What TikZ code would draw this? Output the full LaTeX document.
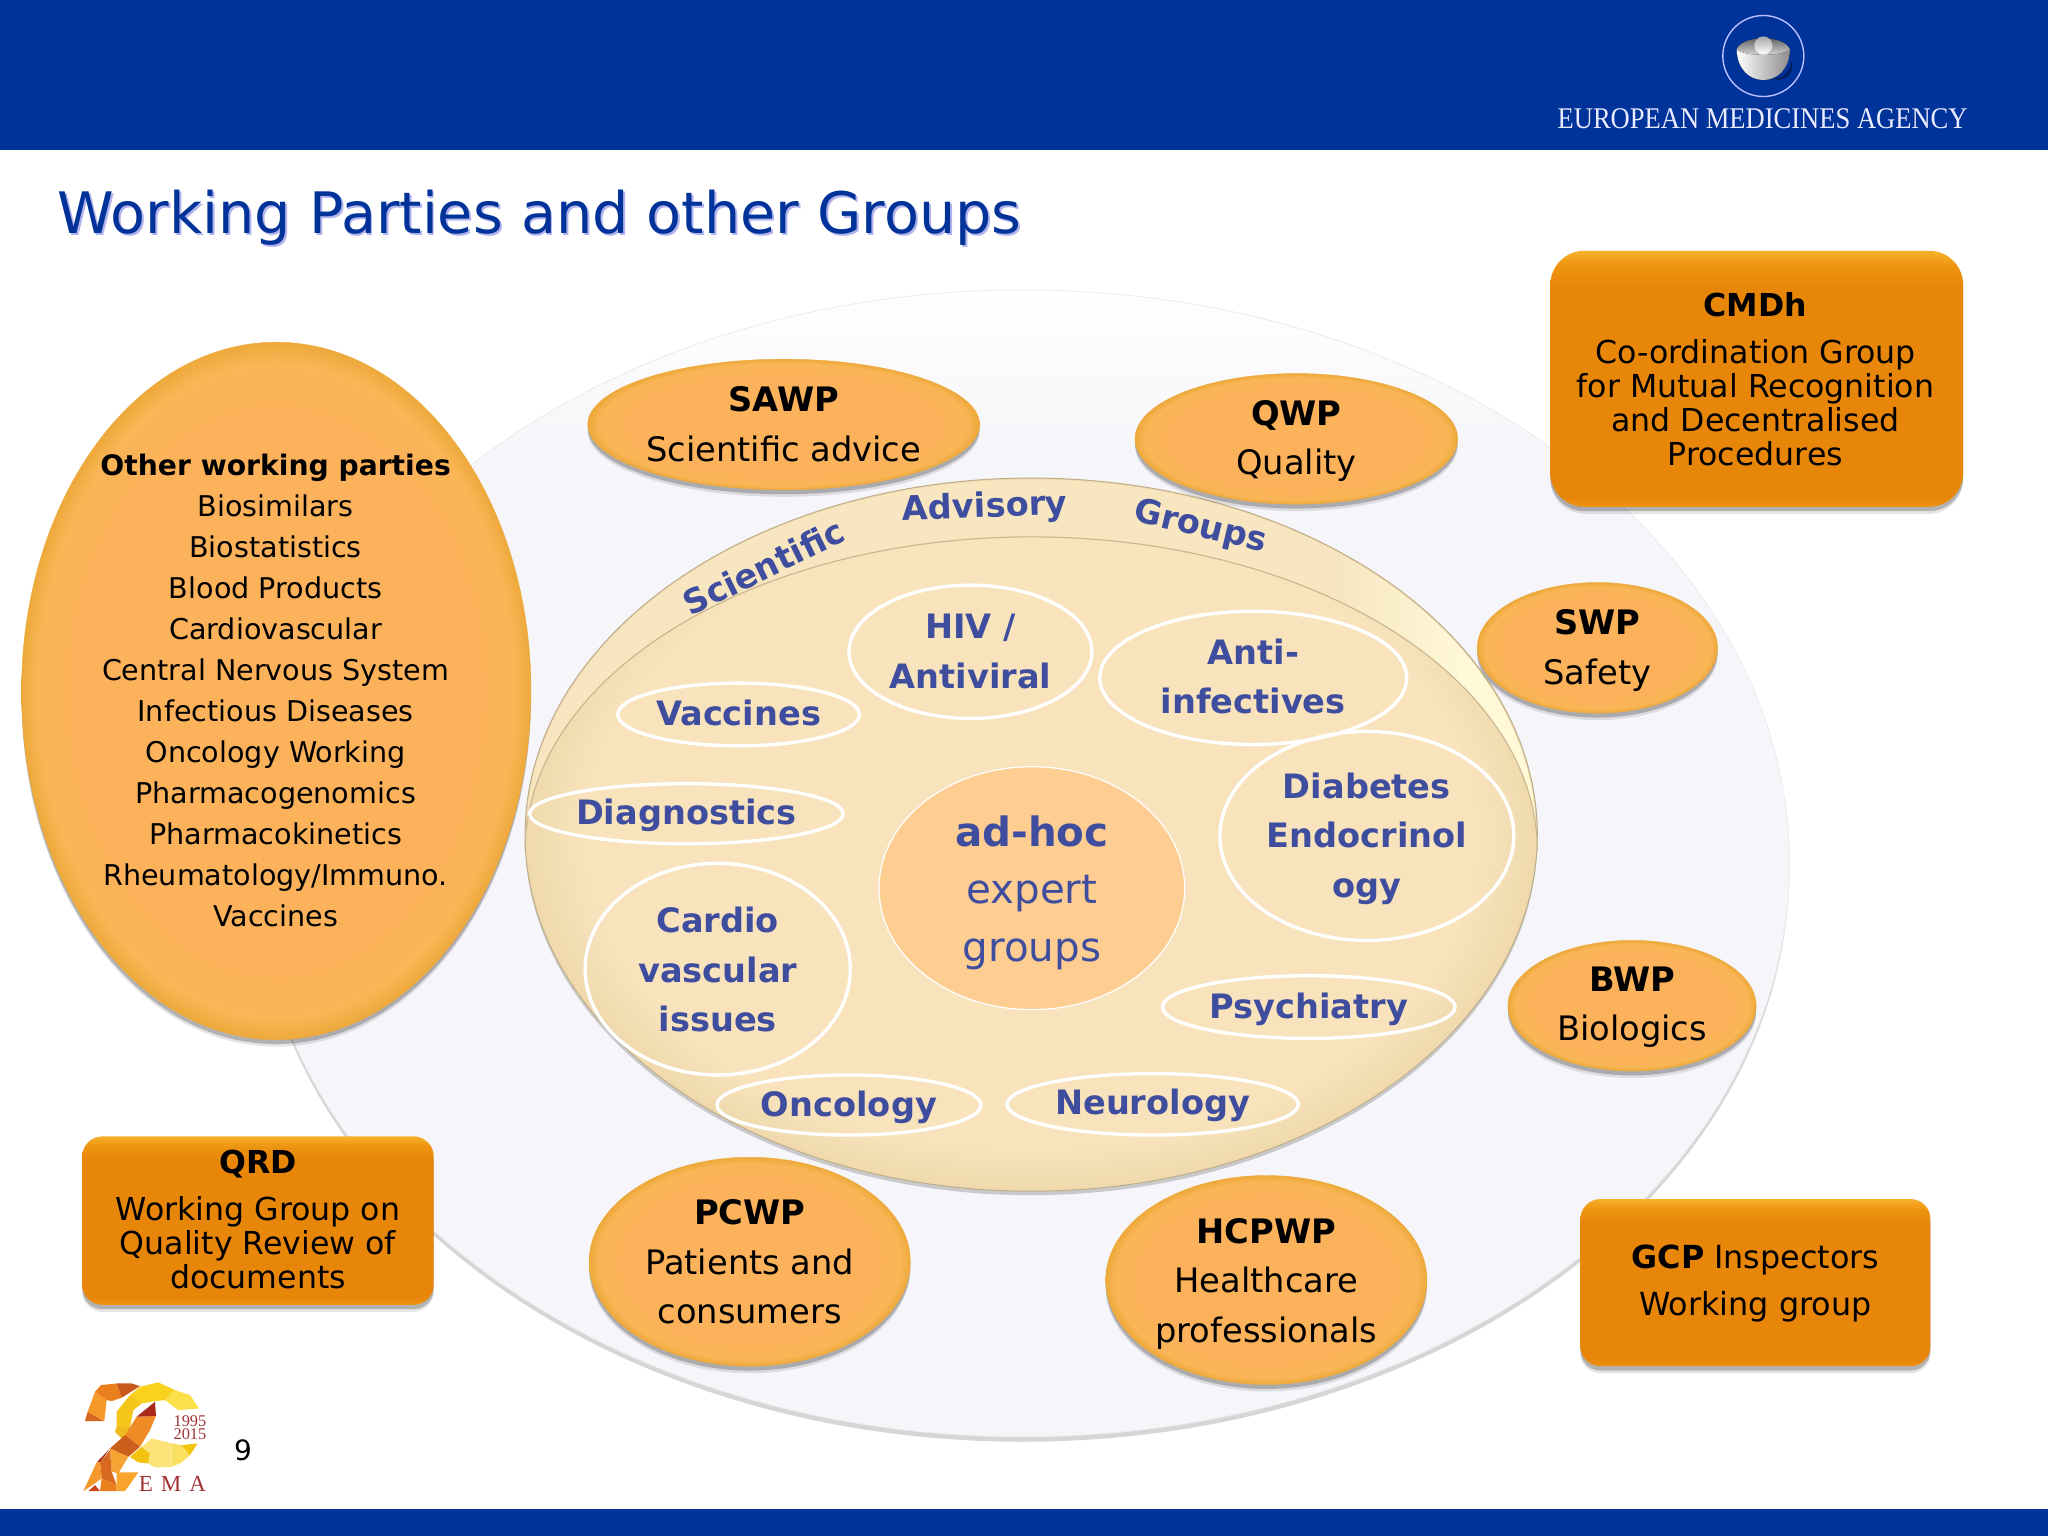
\documentclass[tikz,border=0pt]{standalone}
\usepackage{fontspec}
\setmainfont{DejaVu Sans}
\newfontfamily\emafont[FakeStretch=0.885]{Liberation Serif}
\newfontfamily\seriffont{Liberation Serif}
\usetikzlibrary{shapes.geometric,shadows}
\definecolor{emablue}{HTML}{003399}
\definecolor{adv}{HTML}{3F4D9F}
\definecolor{orbc}{HTML}{FBB25A}
\definecolor{orbm}{HTML}{F9B556}
\definecolor{orbe}{HTML}{EDA93A}
\definecolor{boxa}{HTML}{E8860A}
\definecolor{boxb}{HTML}{F6B02C}
\definecolor{boxc}{HTML}{EE9410}
\definecolor{bigc}{HTML}{F8E3BD}
\definecolor{bige}{HTML}{EFD9AC}
\definecolor{bandc}{HTML}{F7E6C0}
\definecolor{foldc}{HTML}{FFF9D8}
\definecolor{hocf}{HTML}{FDCD92}
\definecolor{pale}{HTML}{F6F6FA}
\definecolor{logored}{HTML}{A03434}
\pgfdeclareradialshading{orb}{\pgfpointorigin}{color(0bp)=(orbc);color(20bp)=(orbc);color(23.5bp)=(orbm);color(25bp)=(orbe);color(50bp)=(orbe)}
\pgfdeclareverticalshading{boxsh}{100bp}{color(0bp)=(boxa);color(25bp)=(boxc);color(27bp)=(boxa);color(68bp)=(boxa);color(72bp)=(boxc);color(75bp)=(boxb);color(100bp)=(boxb)}
\pgfdeclareradialshading{bigsh}{\pgfpointorigin}{color(0bp)=(bigc);color(22bp)=(bigc);color(25bp)=(bige);color(50bp)=(bige)}
\pgfdeclareverticalshading{palesh}{100bp}{color(0bp)=(pale);color(25bp)=(pale);color(50bp)=(pale);color(68bp)=(pale);color(75bp)=(white);color(100bp)=(white)}
\pgfdeclarehorizontalshading{foldsh}{100bp}{color(0bp)=(bandc);color(25bp)=(bandc);color(55bp)=(bandc);color(68bp)=(foldc);color(100bp)=(foldc)}
\tikzset{
  softsh/.style={drop shadow={shadow xshift=0pt,shadow yshift=-3.5pt,fill=black,opacity=.10},
                 drop shadow={shadow xshift=0pt,shadow yshift=-2.2pt,fill=black,opacity=.22}},
  ell/.style 2 args={ellipse,inner sep=0pt,outer sep=0pt,minimum width=#1*1.30612pt,minimum height=#2*1.30612pt},
  orbst/.style={shading=orb,draw=orbe,line width=.2pt,softsh},
  ringst/.style={draw=white,line width=1.7pt},
  lab/.style={align=center,inner sep=0pt,outer sep=0pt},
  advlab/.style={lab,text=adv,font=\bfseries\fontsize{16.8}{24.8}\selectfont},
  orblab/.style={lab,text=black,font=\fontsize{16.85}{24.8}\selectfont},
  boxst/.style={rectangle,inner sep=0pt,outer sep=0pt,shading=boxsh,softsh},
  boxlab/.style={lab,text=black,font=\fontsize{15.8}{17}\selectfont},
  yrs/.style={lab,text=logored,font=\seriffont\fontsize{8.2}{10}\selectfont},
}
% [text y offset], name, cx, cy, rx, ry, text
\newcommand\orbnode[7][0]{%
  \node[ell={#5}{#6},orbst] (#2) at (#3,#4) {};
  \node[orblab] (#2-t) at (#3,{#4+#1}) {#7};}
\newcommand\ringnode[7][0]{%
  \node[ell={#5}{#6},ringst] (#2) at (#3,#4) {};
  \node[advlab] (#2-t) at (#3,{#4+#1}) {#7};}
\newcommand\shard[2]{\definecolor{tmpc}{HTML}{#1}\fill[tmpc] #2 -- cycle;}
\begin{document}
\begin{tikzpicture}[x=0.65306pt,y=-0.65306pt]
\useasboundingbox (0,0) rectangle (1568,1176);
\fill[white] (0,0) rectangle (1568,1176);
% bands
\fill[emablue] (0,0) rectangle (1568,115);
\fill[emablue] (0,1155.5) rectangle (1568,1176);
% agency logo
\begin{scope}[shift={(1309.2,7.66)},scale=.2552]
  \fill[black!50!emablue,opacity=.7] (175,205) .. controls (215,212) and (240,190) .. (245,150) .. controls (255,195) and (225,220) .. (175,205);
  \node[circle,draw=blue!25!white,line width=.7pt,inner sep=0pt,minimum size=40.5pt] (ring) at (160,138) {};
  \fill[left color=white,middle color=white!92!black,right color=black!45] (80,118) .. controls (82,180) and (120,210) .. (160,210) .. controls (200,210) and (238,180) .. (240,118) -- cycle;
  \fill[top color=black!60,bottom color=black!12] (80,118) .. controls (90,95) and (125,85) .. (160,85) .. controls (195,85) and (230,95) .. (240,118) .. controls (215,140) and (105,140) .. (80,118);
  \node[circle,inner sep=0pt,minimum size=9pt,top color=black!35,bottom color=white] (ball) at (160,106) {};
\end{scope}
\node[lab,text=blue!8!white,font=\emafont\fontsize{15}{15}\selectfont] (agency) at (1349.5,91) {EUROPEAN MEDICINES AGENCY};
% title
\node[lab,text=black!25!blue!30!white,font=\fontsize{28.6}{32}\selectfont] (title-s) at (414.5,168.5) {Working Parties and other Groups};
\node[lab,text=emablue,font=\fontsize{28.6}{32}\selectfont] (title) at (413,167) {Working Parties and other Groups};
% big pale ellipse
\node[ell={587}{439},shading=palesh,draw=black!8,line width=.4pt,drop shadow={shadow xshift=0pt,shadow yshift=-2.5pt,fill=black,opacity=.16}] (outer) at (783,661) {};
% other working parties
\node[ell={195}{267},orbst] (others) at (211.5,529) {};
\node[lab,text=black,font=\fontsize{14.3}{20.5}\selectfont] (others-t) at (211,528.5) {\textbf{\fontsize{14.1}{20.5}\selectfont Other working parties}\\Biosimilars\\Biostatistics\\Blood Products\\Cardiovascular\\Central Nervous System\\Infectious Diseases\\Oncology Working\\Pharmacogenomics\\Pharmacokinetics\\Rheumatology/Immuno.\\Vaccines};
% central ellipse
\node[ell={387.5}{273},shading=bigsh,draw=black!20!bige,line width=.5pt,drop shadow={shadow xshift=0pt,shadow yshift=-2pt,fill=black,opacity=.18}] (central) at (789.5,639) {};
\shade[shading=foldsh]
  plot[domain=0:90,samples=50,variable=\t] ({789.5+387.5*cos(\t)},{651-240*sin(\t)})
  -- plot[domain=90:0,samples=50,variable=\t] ({789.5+386.5*cos(\t)},{639-272*sin(\t)}) -- cycle;
\fill[bandc]
  plot[domain=90:180,samples=50,variable=\t] ({789.5+387.5*cos(\t)},{651-240*sin(\t)})
  -- plot[domain=180:90,samples=50,variable=\t] ({789.5+386.5*cos(\t)},{639-272*sin(\t)}) -- cycle;
\draw[black!15!bige,line width=.6pt] plot[domain=0:180,samples=100,variable=\t] ({789.5+387.5*cos(\t)},{651-240*sin(\t)});
% arc title
\node[advlab,rotate=26] (sag1) at (584.5,434) {Scientific};
\node[advlab,rotate=2] (sag2) at (754,389) {Advisory};
\node[advlab,rotate=-13.5] (sag3) at (919,404) {Groups};
% therapeutic rings
\ringnode{hiv}{743}{499}{93}{51}{HIV /\\Antiviral}
\ringnode[-1]{anti}{959.5}{519}{117.5}{51}{Anti-\\infectives}
\ringnode[-1]{vacc}{565.5}{547}{92.5}{24}{Vaccines}
\ringnode[1]{diag}{525.5}{623}{120}{23}{Diagnostics}
\ringnode[2]{diab}{1046.5}{640}{112.5}{80}{Diabetes\\Endocrinol\\ogy}
\ringnode[.5]{card}{549.5}{742}{101.5}{81}{Cardio\\vascular\\issues}
\ringnode[2]{psy}{1002}{771}{112}{24}{Psychiatry}
\ringnode[2]{onc}{650}{846}{101}{23}{Oncology}
\ringnode[1]{neu}{882.5}{845.5}{111.5}{23.5}{Neurology}
\node[ell={117}{93},fill=hocf,draw=white,line width=.6pt] (hoc) at (790,680) {};
\node[lab,text=adv,font=\fontsize{20.2}{28.7}\selectfont] (hoc-t) at (790,683.5) {\textbf{ad-hoc}\\expert\\groups};
% orange ellipses
\orbnode{sawp}{600}{325}{150}{50}{\textbf{SAWP}\\Scientific advice}
\orbnode[1.5]{qwp}{992.5}{336}{123.5}{50}{\textbf{QWP}\\Quality}
\orbnode[2]{swp}{1223}{496}{92}{50}{\textbf{SWP}\\Safety}
\orbnode[1]{bwp}{1249.5}{770}{95}{50}{\textbf{BWP}\\Biologics}
\orbnode{pcwp}{574}{966}{123}{80}{\textbf{PCWP}\\Patients and\\consumers}
\orbnode[3]{hcpwp}{969.5}{980}{123}{80}{\textbf{HCPWP}\\Healthcare\\professionals}
% boxes
\node[boxst,rounded corners=17pt,minimum width=206.4pt,minimum height=128pt] (cmdh) at (1345,290) {};
\node[boxlab] (cmdh-t) at (1344,290) {\textbf{CMDh}\\[6.5pt]Co-ordination Group\\for Mutual Recognition\\and Decentralised\\Procedures};
\node[boxst,rounded corners=10pt,minimum width=175.7pt,minimum height=84.2pt] (qrd) at (197.5,934.5) {};
\node[boxlab] (qrd-t) at (197.5,934) {\textbf{QRD}\\[6.5pt]Working Group on\\Quality Review of\\documents};
\node[boxst,rounded corners=10pt,minimum width=175pt,minimum height=83.6pt] (gcp) at (1344,982) {};
\node[boxlab,font=\fontsize{15.9}{23.5}\selectfont] (gcp-t) at (1344,983) {\textbf{GCP} Inspectors\\Working group};
% anniversary logo
\begin{scope}[shift={(57.42,1052.8)},scale=.2552]
  \shard{F8D21E}{(195,35) -- (250,22) -- (300,45) -- (270,75) -- (240,78) -- (200,85) -- (165,60)}
  \shard{FBE04A}{(300,45) -- (345,60) -- (372,100) -- (310,105) -- (270,75)}
  \shard{F5C518}{(165,60) -- (200,85) -- (175,105) -- (165,155) -- (125,155) -- (125,110)}
  \shard{EFB920}{(125,155) -- (165,155) -- (165,195) -- (145,195) -- (120,170)}
  \shard{F4C30F}{(165,245) -- (200,215) -- (225,235) -- (220,265) -- (190,262)}
  \shard{FDE27A}{(200,215) -- (230,190) -- (290,205) -- (290,240) -- (290,275) -- (240,277) -- (220,265) -- (225,235)}
  \shard{F9E060}{(290,205) -- (320,210) -- (345,240) -- (320,262) -- (290,275)}
  \shard{F1C40F}{(320,210) -- (368,205) -- (345,240)}
  \shard{D9661F}{(30,138) -- (38,110) -- (88,138)}
  \shard{F59A2A}{(38,110) -- (60,50) -- (95,75) -- (88,138)}
  \shard{EC7F1D}{(60,50) -- (78,30) -- (125,25) -- (140,68) -- (110,78) -- (95,75)}
  \shard{C9581C}{(125,25) -- (170,25) -- (195,33) -- (140,68)}
  \shard{F08A24}{(185,125) -- (243,122) -- (225,165) -- (195,215) -- (150,180)}
  \shard{A8281A}{(185,125) -- (240,80) -- (243,122)}
  \shard{CC5E1C}{(150,180) -- (195,215) -- (160,245) -- (105,220)}
  \shard{F7A333}{(105,220) -- (160,245) -- (130,295) -- (110,290)}
  \shard{D86A20}{(75,262) -- (105,225) -- (110,290) -- (125,330) -- (80,310)}
  \shard{A8281A}{(105,220) -- (65,262) -- (75,262)}
  \shard{F59A2A}{(65,262) -- (75,262) -- (80,310) -- (45,335) -- (25,348)}
  \shard{C9471A}{(40,348) -- (60,330) -- (75,348)}
  \shard{F9A52C}{(125,292) -- (190,292) -- (150,348) -- (125,348)}
  \shard{EC7F1D}{(80,310) -- (125,330) -- (125,348) -- (75,348)}
  \node[yrs] (y1) at (345,137) {1995};
  \node[yrs] (y2) at (345,178) {2015};
  \node[lab,text=logored,font=\seriffont\fontsize{11.5}{12}\selectfont] (emaword) at (292,325) {E\hspace{4pt}M\hspace{4pt}A};
\end{scope}
\node[lab,text=black,font=\fontsize{14}{15}\selectfont] (page) at (186,1110) {9};
\end{tikzpicture}
\end{document}
